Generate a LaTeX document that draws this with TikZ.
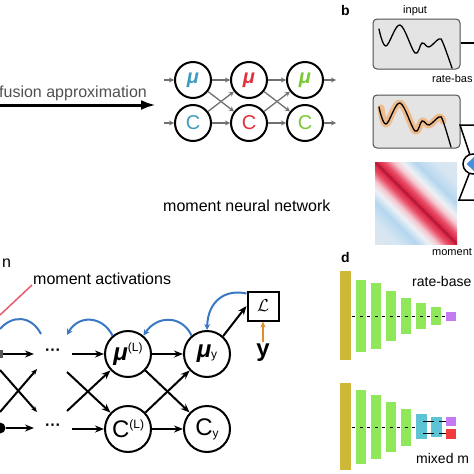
\documentclass[tikz,border=0pt]{standalone}
\usepackage{fontspec}
\setmainfont{Liberation Sans}
\usetikzlibrary{arrows.meta}
\definecolor{cblue}{HTML}{3D9BC1}
\definecolor{cred}{HTML}{E0303C}
\definecolor{cgreen}{HTML}{78C832}
\definecolor{agray}{HTML}{707070}
\definecolor{txtgray}{HTML}{505050}
\definecolor{arcblue}{HTML}{3A78C4}
\definecolor{actred}{HTML}{E85A72}
\definecolor{yorange}{HTML}{E08C2C}
\definecolor{boxgray}{HTML}{E4E4E4}
\definecolor{boxedge}{HTML}{505050}
\definecolor{bandorange}{HTML}{F2AE70}
\definecolor{barolive}{HTML}{CDB83A}
\definecolor{bargreen}{HTML}{8EE85A}
\definecolor{barcyan}{HTML}{5CC4D4}
\definecolor{barpurple}{HTML}{C47AF2}
\definecolor{barred}{HTML}{F03C3C}
\definecolor{gateblue}{HTML}{4A8EE0}
\definecolor{hmdark}{HTML}{A8102C}
\definecolor{hmred}{HTML}{DE2848}
\definecolor{hmredb}{HTML}{E8566E}
\definecolor{hmpink}{HTML}{F6C4CE}
\definecolor{hmwhite}{HTML}{EEF2F6}
\definecolor{hmblue}{HTML}{B4D6EE}
\definecolor{hmpale}{HTML}{D6E6F2}
\definecolor{hmedge}{HTML}{E2E6EA}
\tikzset{
  topnode/.style={circle, draw, line width=2pt, minimum size=36pt, inner sep=0pt, font=\fontsize{20}{20}\selectfont},
  grayarr/.style={draw=agray, line width=1.3pt, -{Stealth[length=5pt,width=5pt]}},
  bignode/.style={circle, draw, line width=2pt, minimum size=46pt, inner sep=0pt, font=\fontsize{24}{24}\selectfont},
  blkarr/.style={line width=2pt, -{Stealth[length=9pt,width=7pt]}},
  smallarr/.style={line width=2pt, -{Stealth[length=6pt,width=5pt]}},
  bluearc/.style={draw=arcblue, line width=2pt},
  bluearr/.style={draw=arcblue, line width=2pt, -{Stealth[length=6pt,width=6pt]}},
  bline/.style={line width=1.5pt},
  plotbox/.style={draw=boxedge, fill=boxgray, rounded corners=4pt, line width=1pt, minimum width=87pt, inner sep=0pt},
  lbl/.style={inner sep=0pt, anchor=base west},
  dashes/.style={line width=1pt, dash pattern=on 3pt off 4.5pt},
}
\begin{document}
\begin{tikzpicture}[x=1pt,y=1pt]
\useasboundingbox (0,0) rectangle (474,-474);

% ---------------- panel a (top) ----------------
\node[lbl, font=\fontsize{16}{18}\selectfont, text=txtgray] (difftxt) at (-1,-97) {fusion approximation};
\coordinate (bigS) at (-2,-105);
\coordinate (bigE) at (156,-105);
\draw[line width=3pt, -{Latex[length=15pt,width=10pt]}] (bigS) -- (bigE);

\node[topnode, text=cblue] (m1) at (193,-80) {\bfseries\itshape μ};
\node[topnode, text=cblue] (c1) at (193,-123) {C};
\node[topnode, text=cred] (m2) at (249,-80) {\bfseries\itshape μ};
\node[topnode, text=cred] (c2) at (249,-123) {C};
\node[topnode, text=cgreen] (m3) at (305,-80) {\bfseries\itshape μ};
\node[topnode, text=cgreen] (c3) at (305,-123) {C};
\coordinate (inm) at (164,-80);
\coordinate (inc) at (164,-123);
\coordinate (outm) at (336,-80);
\coordinate (outc) at (336,-123);
\draw[grayarr] (inm) -- (m1);
\draw[grayarr] (inc) -- (c1);
\draw[grayarr] (m1) -- (m2);
\draw[grayarr] (c1) -- (c2);
\draw[grayarr] (m1) -- (c2);
\draw[grayarr] (c1) -- (m2);
\draw[grayarr] (m2) -- (m3);
\draw[grayarr] (c2) -- (c3);
\draw[grayarr] (m2) -- (c3);
\draw[grayarr] (c2) -- (m3);
\draw[grayarr] (m3) -- (outm);
\draw[grayarr] (c3) -- (outc);
\node[lbl, font=\fontsize{16}{18}\selectfont] (mnn) at (163,-211) {moment neural network};

% ---------------- panel b ----------------
\node[lbl, font=\bfseries\fontsize{14}{14}\selectfont] (lblb) at (341,-15) {b};
\node[lbl, font=\fontsize{11}{12}\selectfont] (inputlbl) at (403,-13) {input};
\node[plotbox, minimum height=50pt] (box1) at (416.5,-44) {};
\draw[line width=1.3pt, line cap=round] plot[smooth, tension=0.6] coordinates {(379,-29) (386,-46) (400,-25) (415,-53) (422,-43) (429,-47) (439,-39) (443,-43) (452,-68)};
\coordinate (b1out) at (474,-43);
\draw[bline] (box1.east |- b1out) -- (b1out);
\node[lbl, font=\fontsize{11}{12}\selectfont] (ratelbl) at (432,-82) {rate-bas};

\node[plotbox, minimum height=53pt] (box2) at (416.5,-121.5) {};
\draw[bandorange, opacity=0.75, line width=7pt, line cap=round, line join=round] plot[smooth, tension=0.6] coordinates {(381,-108) (386,-124) (400,-103) (415,-131) (422,-121) (429,-125) (439,-117) (443,-121)};
\draw[line width=1.3pt, line cap=round] plot[smooth, tension=0.6] coordinates {(379,-107) (386,-124) (400,-103) (415,-131) (422,-121) (429,-125) (439,-117) (443,-121) (451,-147)};
\coordinate (b2r) at (460,-125);
\coordinate (b2out) at (474,-125);
\coordinate (tri2) at (459,-200);
\coordinate (tri3) at (474,-200);
\node[circle, draw, fill=white, line width=1.5pt, minimum size=20pt, inner sep=0pt] (gate) at (473,-164) {};
\fill[gateblue] (466.5,-164) -- (474,-157) -- (474,-171) -- cycle;
\draw[bline] (b2out) -- (b2r) -- (gate);
\draw[bline] (gate) -- (tri2) -- (tri3);

% heatmap
\begin{scope}
  \clip (375,-162) rectangle (457,-244);
  \fill[hmedge] (375,-162) rectangle (457,-244);
  \begin{scope}[transform canvas={shift={(416pt,-203pt)}, rotate=-45}]
    \foreach \a/\b/\ca/\cb in {0/2.3/hmdark/hmred, 2/7.3/hmred/hmredb, 7/13.3/hmredb/hmpink, 13/19.3/hmpink/hmwhite, 19/28.3/hmwhite/hmblue, 28/42.3/hmblue/hmpale, 42/70/hmpale/hmedge}{
      \shade[bottom color=\ca, top color=\cb] (-70,\a) rectangle (70,\b);
      \shade[bottom color=\cb, top color=\ca] (-70,-\b) rectangle (70,-\a);
    }
  \end{scope}
\end{scope}
\node[lbl, font=\fontsize{11}{12}\selectfont] (momlbl) at (432,-255) {moment};

% ---------------- panel c ----------------
\node[lbl, font=\fontsize{16}{18}\selectfont] (nlbl) at (2,-267) {n};
\node[lbl, font=\fontsize{16}{18}\selectfont] (actlbl) at (33,-284) {moment activations};
\coordinate (r1) at (0,-315);
\coordinate (r2) at (32,-285);
\draw[actred, line width=1.5pt] (r1) -- (r2);

\node[rectangle, fill=black!65, minimum width=6pt, minimum height=8pt, inner sep=0pt] (mprev) at (0,-354) {};
\node[circle, fill=black, minimum size=11pt, inner sep=0pt] (cprev) at (0,-428) {};
\node[bignode] (mL) at (128,-354) {{\bfseries\itshape μ}\raisebox{9pt}{\fontsize{12}{12}\selectfont (L)}};
\node[bignode] (cL) at (128,-429) {C\raisebox{9pt}{\fontsize{12}{12}\selectfont (L)}};
\node[bignode] (my) at (207,-354) {{\bfseries\itshape μ}\raisebox{-1pt}{\fontsize{12}{12}\selectfont y}};
\node[bignode] (cy) at (207,-429) {C\raisebox{-2pt}{\fontsize{12}{12}\selectfont y}};

\coordinate (h1e) at (34,-354);
\coordinate (h2e) at (34,-428);
\coordinate (h1s) at (72,-354);
\coordinate (h2s) at (72,-429);
\node[font=\bfseries\fontsize{16}{16}\selectfont, inner sep=0pt] (dots1) at (53,-352) {···};
\node[font=\bfseries\fontsize{16}{16}\selectfont, inner sep=0pt] (dots2) at (53,-427) {···};
\draw[blkarr] (mprev) -- (h1e);
\draw[blkarr] (cprev) -- (h2e);
\draw[blkarr] (h1s) -- (mL);
\draw[blkarr] (h2s) -- (cL);

\coordinate (xa) at (0,-370);
\coordinate (xb) at (37,-412);
\coordinate (xc) at (0,-412);
\coordinate (xd) at (37,-369);
\draw[smallarr] (xa) -- (xb);
\draw[smallarr] (xc) -- (xd);
\coordinate (ya) at (67,-372);
\coordinate (yc) at (67,-411);
\draw[blkarr] (ya) -- (cL);
\draw[blkarr] (yc) -- (mL);
\draw[blkarr] (mL) -- (my);
\draw[blkarr] (cL) -- (cy);
\draw[blkarr] (mL) -- (cy);
\draw[blkarr] (cL) -- (my);

\node[draw, line width=2pt, minimum width=31pt, minimum height=29pt, inner sep=0pt, font=\fontsize{16}{16}\selectfont] (loss) at (263,-306) {$\mathcal{L}$};
\draw[blkarr] (my.48) -- (loss.west);
\node[font=\bfseries\fontsize{24}{24}\selectfont, inner sep=1pt, anchor=base] (yy) at (263,-356) {y};
\draw[yorange, line width=1.6pt, -{Stealth[length=6pt,width=5pt]}] (yy) -- (loss);

\coordinate (a1s) at (0,-329);
\coordinate (a1e) at (41,-334);
\coordinate (a2e) at (67,-335);
\draw[bluearc] (a1e) .. controls (31,-315) and (12,-315) .. (a1s);
\draw[bluearr] (mL.130) .. controls (102,-315) and (78,-315) .. (a2e);
\draw[bluearr] (my.130) .. controls (182,-315) and (157,-315) .. (mL.50);
\draw[bluearr] ([yshift=-3pt]loss.north west) .. controls (226,-289) and (208,-300) .. (my.north);

% ---------------- panel d ----------------
\node[lbl, font=\bfseries\fontsize{14}{14}\selectfont] (lbld) at (341,-262) {d};
\node[lbl, font=\fontsize{14}{15}\selectfont] (ratebase) at (412,-286) {rate-base};
% rate-based network
\fill[barolive] (340,-271) rectangle (351,-360);
\fill[bargreen] (356,-280) rectangle (366,-352);
\fill[bargreen] (371,-283) rectangle (381,-349);
\fill[bargreen] (386,-291) rectangle (396,-341);
\fill[bargreen] (401,-298) rectangle (411,-334);
\fill[bargreen] (416,-303) rectangle (426,-329);
\fill[bargreen] (431,-307) rectangle (441,-325);
\fill[barpurple] (446,-312) rectangle (456,-321);
\coordinate (d1s) at (352,-316);
\coordinate (d1e) at (446,-316);
\draw[dashes] (d1s) -- (d1e);

% mixed network
\fill[barolive] (340,-383) rectangle (351,-470);
\fill[bargreen] (356,-390) rectangle (366,-464);
\fill[bargreen] (371,-395) rectangle (381,-459);
\fill[bargreen] (386,-402) rectangle (396,-452);
\fill[bargreen] (401,-409) rectangle (411,-446);
\fill[barcyan] (416,-414) rectangle (427,-439);
\fill[barcyan] (431,-417) rectangle (442,-437);
\fill[barpurple] (446,-417) rectangle (456,-426);
\fill[barred] (446,-429) rectangle (456,-439);
\coordinate (d2s) at (352,-427);
\coordinate (d2e) at (419,-427);
\draw[dashes] (d2s) -- (d2e);
\draw[line width=1pt] (423,-421.5) -- (434,-421.5);
\draw[line width=1pt] (423,-433.5) -- (434,-433.5);
\draw[line width=1pt] (439,-421.5) -- (446,-421.5);
\draw[line width=1pt] (439,-433.5) -- (446,-433.5);
\node[lbl, font=\fontsize{14}{15}\selectfont] (mixedlbl) at (416,-463) {mixed m};
\end{tikzpicture}
\end{document}
